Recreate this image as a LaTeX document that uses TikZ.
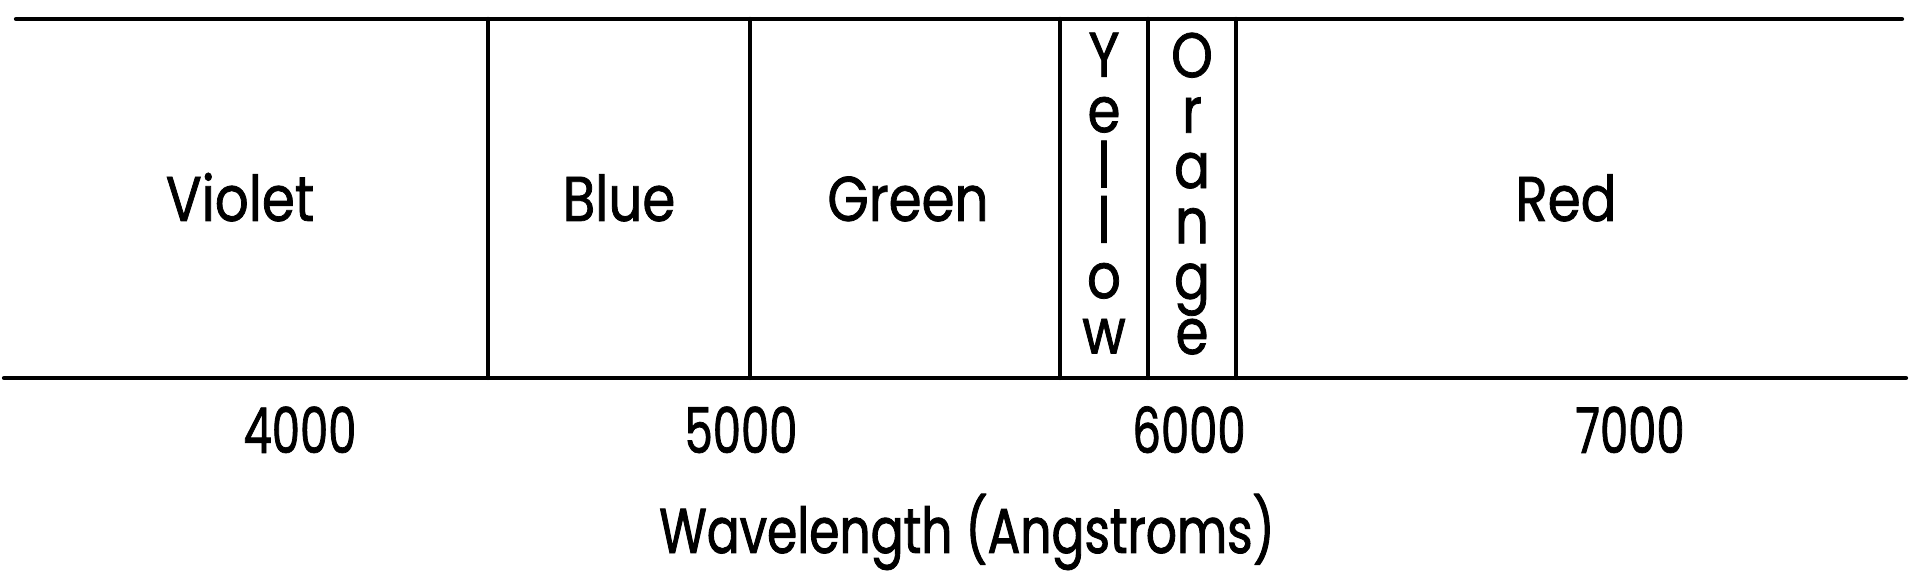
\documentclass[tikz,border=0pt]{standalone}
\usepackage{fontspec}
\setmainfont[FakeStretch=0.84,FakeBold=1.2]{Poppins}
\newfontfamily\numfont[FakeStretch=0.71,FakeBold=1.2]{Poppins}
\newfontfamily\axisfont[FakeStretch=0.77,FakeBold=1.4]{Poppins}
\usetikzlibrary{positioning}

\begin{document}
\begin{tikzpicture}[
    lbl/.style={font=\fontsize{18}{20}\selectfont, inner sep=0pt, anchor=base},
    stack/.style={font=\fontsize{18}{15.75}\selectfont, inner sep=0pt, anchor=north, align=center},
    num/.style={lbl, font=\numfont\fontsize{18}{20}\selectfont},
    rule/.style={line width=1.2pt, line cap=round}
  ]
  \useasboundingbox (0,0) rectangle (19.2,5.78);

  % Band edges
  \coordinate (topL) at (0.16,5.59);
  \coordinate (topR) at (19.02,5.59);
  \coordinate (botL) at (0.04,2.00);
  \coordinate (botR) at (19.06,2.00);
  \draw[rule] (topL) -- (topR);
  \draw[rule] (botL) -- (botR);
  \foreach \x/\n in {4.88/vb, 7.50/bg, 10.60/gy, 11.48/yo, 12.36/or} {
    \coordinate (\n-t) at (\x,5.59);
    \coordinate (\n-b) at (\x,2.00);
    \draw[rule] (\n-t) -- (\n-b);
  }

  % Colour names
  \node[lbl] (violet) at (2.40,3.57) {Violet};
  \node[lbl] (blue) at (6.19,3.57) {Blue};
  \node[lbl] (green) at (9.08,3.57) {Green};
  \node[lbl] (red) at (15.66,3.57) {Red};
  \node[stack] (yellow) at (11.04,5.46) {Y\\e\\l\\l\\o\\w};
  \node[stack] (orange) at (11.92,5.46) {O\\r\\a\\n\\g\\e};

  % Scale
  \node[num] (w4) at (3.00,1.25) {4000};
  \node[num] (w5) at (7.41,1.25) {5000};
  \node[num] (w6) at (11.89,1.25) {6000};
  \node[num] (w7) at (16.30,1.25) {7000};
  \node[lbl, font=\axisfont\fontsize{18}{20}\selectfont] (axis) at (9.67,0.25) {Wavelength (Angstroms)};

\end{tikzpicture}
\end{document}
